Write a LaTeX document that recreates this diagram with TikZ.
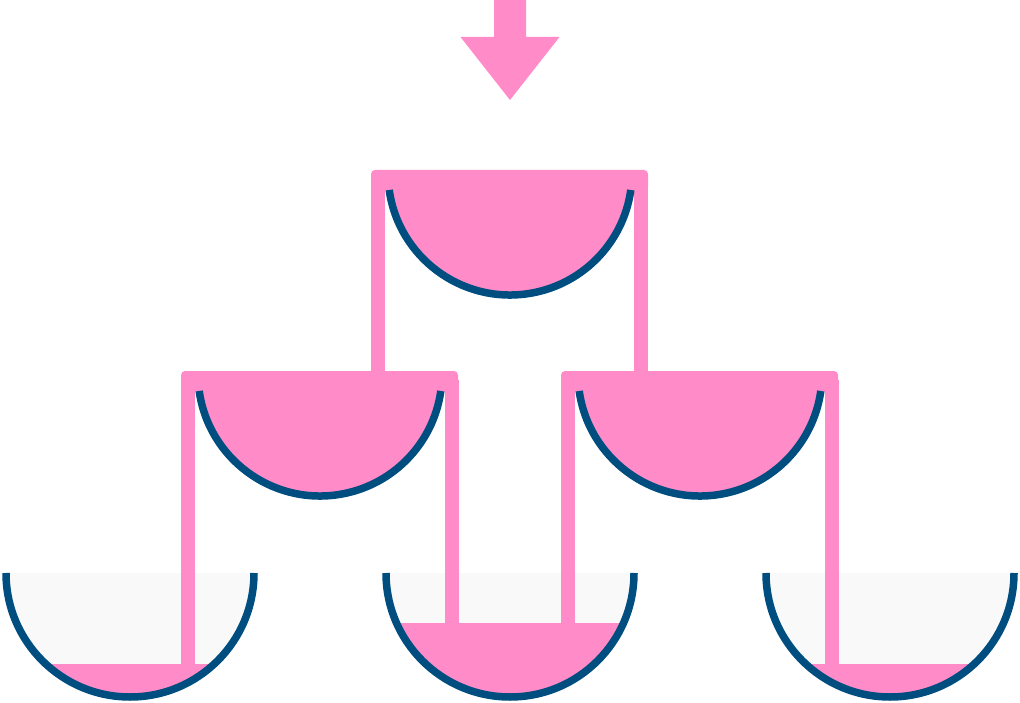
\documentclass[tikz,border=0pt]{standalone}
\definecolor{pinkc}{RGB}{255,139,200}
\definecolor{bluec}{RGB}{0,78,128}
\definecolor{greyc}{RGB}{249,249,249}
\tikzset{
  liquid/.style={fill=pinkc, draw=none},
  rim/.style={draw=bluec, line width=7.5pt, line cap=butt},
  bar/.style={fill=pinkc, draw=none, rounded corners=4pt},
  pipe/.style={fill=pinkc, draw=none},
  empty/.style={fill=greyc, draw=none}
}
\begin{document}
\begin{tikzpicture}[x=1pt,y=1pt]
\useasboundingbox (0,0) rectangle (1020,-703);
% arrow
\fill[pinkc] (494,0) -- (526,0) -- (526,-37) -- (559.5,-37) -- (510,-100) -- (460.5,-37) -- (494,-37) -- cycle;

% named centres
\coordinate (T) at (510,-173);
\coordinate (ML) at (320,-374);
\coordinate (MR) at (700,-374);
\coordinate (BL) at (130,-573);
\coordinate (BM) at (510,-573);
\coordinate (BR) at (890,-573);

% bottom bowls: grey fill and liquid
\foreach \c/\cx/\lev in {BL/130/664, BM/510/623, BR/890/664}{
  \fill[empty] (\c) ++(180:124pt) arc[start angle=180, end angle=360, radius=124pt] -- cycle;
  \begin{scope}
    \clip (\c) ++(180:124pt) arc[start angle=180, end angle=360, radius=124pt] -- cycle;
    \fill[liquid] (\cx-130,-\lev) rectangle (\cx+130,-710);
  \end{scope}
}

% pipes (vertical lines)
\fill[pipe] (371,-180) rectangle (385,-380);
\fill[pipe] (634,-180) rectangle (648,-380);
\fill[pipe] (181,-380) rectangle (195,-665);
\fill[pipe] (444.5,-380) rectangle (458.5,-624);
\fill[pipe] (561,-380) rectangle (575,-624);
\fill[pipe] (824.5,-380) rectangle (838.5,-665);

% upper bowls
\foreach \c/\cx/\cy in {T/510/173, ML/320/374, MR/700/374}{
  \fill[liquid] (\c) ++(188:122pt) arc[start angle=188, end angle=352, radius=122pt] -- cycle;
  \fill[bar] (\cx-139,-\cy+3) rectangle (\cx+138,-\cy-18);
  \draw[rim] (\c) ++(188:122pt) arc[start angle=188, end angle=352, radius=122pt];
}

% bottom rims
\foreach \c in {BL, BM, BR}{
  \draw[rim] (\c) ++(180:124pt) arc[start angle=180, end angle=360, radius=124pt];
}
\end{tikzpicture}
\end{document}
